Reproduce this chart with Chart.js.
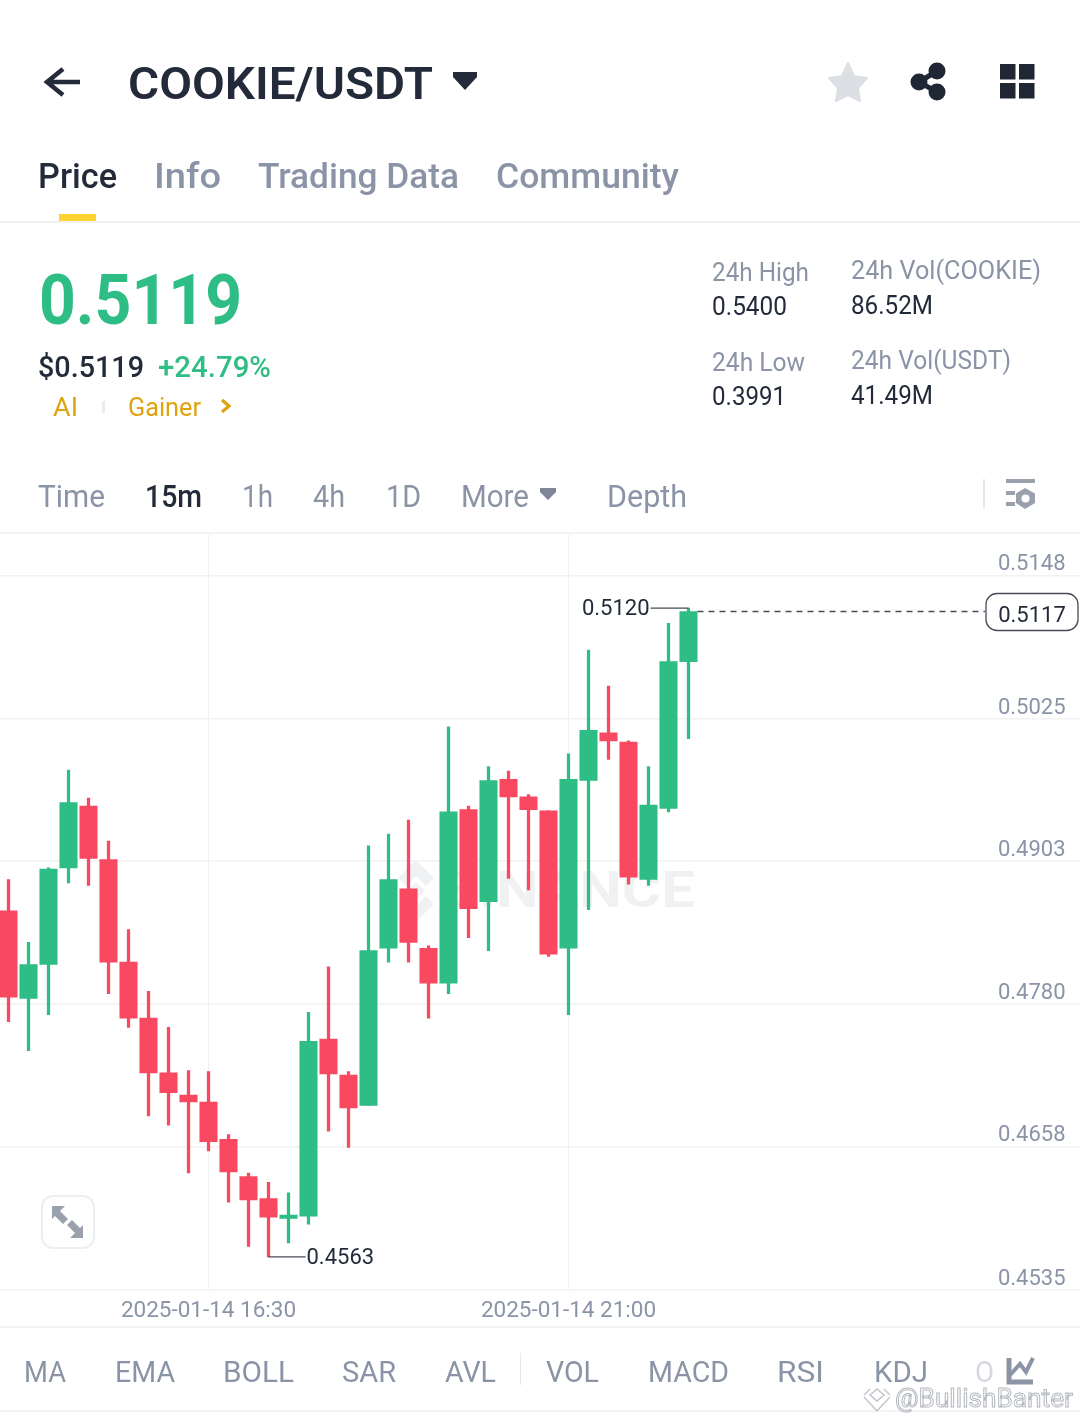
<!DOCTYPE html>
<html><head><meta charset="utf-8">
<style>
html,body{margin:0;padding:0;background:#fff;width:1080px;height:1420px;overflow:hidden;font-family:Roboto,sans-serif}
#page{position:relative;width:1080px;height:1420px;overflow:hidden;background:#fff}
.t{position:absolute;white-space:nowrap;line-height:1;transform-origin:left center}
.rule{position:absolute;left:0;width:1080px}
svg{position:absolute;overflow:visible}
canvas{position:absolute}
</style>
<script src="https://cdn.jsdelivr.net/npm/chart.js@4"></script>
</head><body><div id="page">
<div class="rule" style="top:221px;height:2px;background:#f1f2f4"></div>
<div style="position:absolute;left:59px;top:214px;width:37px;height:7px;background:#fcd535"></div>
<div class="rule" style="top:532px;height:2px;background:#f3f4f6"></div>
<div class="rule" style="top:1326px;height:2px;background:#f3f4f6"></div>
<div class="rule" style="top:1410px;height:2px;background:#f3f4f6"></div>
<div style="position:absolute;left:983px;top:479px;width:2px;height:30px;background:#e6e8ec"></div>
<div style="position:absolute;left:520px;top:1353px;width:1px;height:32px;background:#e6e8ec"></div>
<div style="position:absolute;left:102px;top:401px;width:3px;height:12px;background:#eaecef"></div>

<svg style="left:0;top:0" width="1080" height="1420">
  <path d="M80 82H48M63 69L47 82L63 95" fill="none" stroke="#232b3a" stroke-width="4.5"/>
  <path d="M453 72H477V77L465 90L453 77Z" fill="#232b3a"/>
  <path d="M540 488H556V492L548 500L540 492Z" fill="#7d8797"/>
  <path d="M848 63L854 76L867 78L858 88L860 101L848 95L836 101L838 88L829 78L842 76Z" fill="#dcdfe4" stroke="#dcdfe4" stroke-width="2" stroke-linejoin="round"/>
  <path d="M937 71L919 82L937 92" fill="none" stroke="#1f2735" stroke-width="5"/>
  <circle cx="937" cy="71" r="8.5" fill="#1f2735"/><circle cx="919" cy="82" r="8.5" fill="#1f2735"/><circle cx="937" cy="92" r="8.5" fill="#1f2735"/>
  <rect x="1000" y="64" width="15.5" height="15.5" fill="#1f2735"/><rect x="1019" y="64" width="15.5" height="15.5" fill="#1f2735"/>
  <rect x="1000" y="83" width="15.5" height="15.5" fill="#1f2735"/><rect x="1019" y="83" width="15.5" height="15.5" fill="#1f2735"/>
  <path d="M222 400L229 406L222 412" fill="none" stroke="#dfa30d" stroke-width="3.2"/>
  <rect x="1006" y="479" width="29" height="4" fill="#9aa1ad"/>
  <rect x="1006" y="491" width="9" height="4" fill="#9aa1ad"/>
  <rect x="1006" y="502" width="9" height="4" fill="#9aa1ad"/>
  <path d="M1025 488L1035 493.500V503L1025 509L1016 503V493.500Z" fill="#9aa1ad"/>
  <circle cx="1025.500" cy="498.500" r="4" fill="#fff"/>
  <path d="M1009 1358V1382H1033" fill="none" stroke="#8c95a5" stroke-width="5"/>
  <path d="M1010 1375L1020 1364L1026 1372L1033 1358" fill="none" stroke="#8c95a5" stroke-width="4"/>
  <g fill="none" stroke="#bfc3ca" stroke-width="1.400">
    <path d="M877 1389L884 1395L877 1401L870 1395Z"/><path d="M864 1395L870 1389M890 1395L884 1389"/>
    <path d="M864 1397L877 1411L890 1397"/>
  </g>
</svg>

<svg style="left:0;top:0" width="1080" height="1420">
  <g fill="#f0f1f3">
    <path d="M416 860L434 878L426 886L416 876L406 886L398 878Z"/>
    <path d="M416 922L434 904L426 896L416 906L406 896L398 904Z"/>
    <path d="M416 882L425 891L416 900L407 891Z"/>
  </g>
</svg>
<div class="t" id="wm" style="left:440px;top:870px;font-size:50px;font-weight:700;color:#f0f1f3">BINANCE</div>

<canvas id="c"></canvas>

<div style="position:absolute;left:41px;top:1195px;width:50px;height:50px;border:2px solid #eceef1;border-radius:12px;background:#fff"></div>
<svg style="left:0;top:0" width="1080" height="1420">
  <path d="M52 1206H65L60 1211L68 1219L63 1224L55 1216L52 1219Z" fill="#9aa1ad"/>
  <path d="M83 1238H70L75 1233L67 1225L72 1220L80 1228L83 1225Z" fill="#9aa1ad"/>
</svg>
</div>
<script>
const candleTimes = ["14:00","14:15","14:30","14:45","15:00","15:15","15:30","15:45","16:00","16:15","16:30","16:45","17:00","17:15","17:30","17:45","18:00","18:15","18:30","18:45","19:00","19:15","19:30","19:45","20:00","20:15","20:30","20:45","21:00","21:15","21:30","21:45","22:00","22:15","22:30"];
const opens  = [0.4860,0.4785,0.4814,0.4897,0.4950,0.4904,0.4816,0.4768,0.4721,0.4702,0.4696,0.4664,0.4632,0.4613,0.4596,0.4598,0.4750,0.4719,0.4693,0.4828,0.4879,0.4828,0.4798,0.4947,0.4868,0.4973,0.4958,0.4946,0.4828,0.4972,0.5013,0.5005,0.4887,0.4948,0.5074];
const closes = [0.4786,0.4814,0.4896,0.4953,0.4905,0.4816,0.4768,0.4721,0.4704,0.4696,0.4662,0.4636,0.4612,0.4597,0.4599,0.4748,0.4720,0.4691,0.4826,0.4887,0.4833,0.4798,0.4945,0.4862,0.4972,0.4958,0.4947,0.4823,0.4973,0.5015,0.5006,0.4889,0.4951,0.5074,0.5117];
const highs  = [0.4887,0.4833,0.4897,0.4981,0.4957,0.4920,0.4844,0.4791,0.4760,0.4723,0.4722,0.4668,0.4635,0.4627,0.4618,0.4773,0.4812,0.4722,0.4916,0.4926,0.4938,0.4830,0.5018,0.4950,0.4984,0.4980,0.4960,0.4946,0.4995,0.5084,0.5053,0.5006,0.4984,0.5107,0.5120];
const lows   = [0.4765,0.4740,0.4771,0.4884,0.4882,0.4789,0.4760,0.4684,0.4676,0.4635,0.4654,0.4610,0.4572,0.4563,0.4575,0.4591,0.4671,0.4657,0.4693,0.4816,0.4816,0.4768,0.4789,0.4837,0.4826,0.4888,0.4878,0.4821,0.4771,0.4861,0.4990,0.4883,0.4882,0.4945,0.5008];
const yTicks = [0.5148,0.5025,0.4903,0.4780,0.4658,0.4535];
const xTickTimes = ["16:30","21:00"];
const xTickDate = "2025-01-14";
const futureSlots = ["","","","","","","","","","","","","","","","","","","",""];
const periodHigh = 0.5120, periodLow = 0.4563, lastPrice = 0.5117;

const UP = "#2ebd85", DOWN = "#f84960", GRID = "#f1f2f4", MUTED = "#8a94a6", INK = "#232b3a";

const textRows = [
 ["COOKIE/USDT",128,83,45,INK,600,305],
 ["Price",38,176,35,INK,500,79],["Info",154,176,35,MUTED,500,67],["Trading Data",258,176,35,MUTED,500,201],["Community",496,176,35,MUTED,500,183],
 ["0.5119",39,300,70,UP,700,203],
 ["$0.5119",38,367,30,INK,500,106],["+24.79%",158,367,30,UP,500,113],
 ["AI",53,407,26,"#dfa30d",400,25],["Gainer",128,407,26,"#dfa30d",400,73],
 ["24h High",712,272,26,MUTED,400,97],["0.5400",712,306,26,INK,400,75],
 ["24h Vol(COOKIE)",851,270,26,MUTED,400,190],["86.52M",851,305,26,INK,400,82],
 ["24h Low",712,362,26,MUTED,400,93],["0.3991",712,396,26,INK,400,74],
 ["24h Vol(USDT)",851,360,26,MUTED,400,160],["41.49M",851,395,26,INK,400,82],
 ["Time",38,496,31,MUTED,400,67],["15m",145,496,31,INK,500,57],["1h",242,496,31,MUTED,400,31],["4h",313,496,31,MUTED,400,32],["1D",386,496,31,MUTED,400,35],["More",461,496,31,MUTED,400,68],["Depth",607,496,31,MUTED,400,80],
 ["MA",24,1372,30,MUTED,400,42],["EMA",115,1372,30,MUTED,400,60],["BOLL",223,1372,30,MUTED,400,71],["SAR",342,1372,30,MUTED,400,54],["AVL",445,1372,30,MUTED,400,51],["VOL",546,1372,30,MUTED,400,53],["MACD",648,1372,30,MUTED,400,81],["RSI",777,1372,30,MUTED,400,47],["KDJ",874,1372,30,MUTED,400,54],["O",975,1372,30,"#d6d9df",400,19]
];
const page = document.getElementById('page');
function place(el, x, cy, w){
  el.style.left = x + 'px';
  const r = el.getBoundingClientRect();
  el.style.top = (cy - r.height/2) + 'px';
  if (w) el.style.transform = 'scaleX(' + (w / r.width) + ')';
}
textRows.forEach(([s,x,cy,size,color,weight,w]) => {
  const d = document.createElement('div');
  d.className = 't'; d.textContent = s;
  d.style.fontSize = size + 'px'; d.style.color = color; d.style.fontWeight = weight;
  page.appendChild(d); place(d,x,cy,w);
});
const credit = document.createElement('div');
credit.className='t'; credit.textContent='@BullishBanter';
credit.style.cssText += 'font-size:26px;color:#fff;-webkit-text-stroke:1px #b4b8bf;';
page.appendChild(credit); place(credit,895,1398,178);
place(document.getElementById('wm'),440,890,255);

const cv = document.getElementById('c');
cv.style.left='-2px'; cv.style.top='534px';
cv.style.width='1101px'; cv.style.height='794px';
cv.width=1101; cv.height=794;

const labels = candleTimes.map(t => xTickDate + " " + t).concat(futureSlots);
const colors = opens.map((o,i) => closes[i] >= o ? UP : DOWN);
const xLabelSet = xTickTimes.map(t => xTickDate + " " + t);
const noPad = s => { s.paddingLeft = s.paddingRight = s.paddingTop = s.paddingBottom = 0; };

const marks = {
  id:'marks',
  afterDatasetsDraw(chart){
    const {ctx, scales:{x,y}} = chart;
    const hi = highs.indexOf(periodHigh), lo = lows.indexOf(periodLow), last = closes.length-1;
    const xh = x.getPixelForValue(hi), yh = y.getPixelForValue(periodHigh);
    const xl = x.getPixelForValue(lo), yl = y.getPixelForValue(periodLow);
    const yc = Math.round(y.getPixelForValue(lastPrice)) - 0.5;
    ctx.save();
    ctx.strokeStyle = '#474d57'; ctx.lineWidth = 1.2; ctx.fillStyle = INK;
    ctx.font = '22px Roboto'; ctx.textBaseline = 'middle';
    ctx.beginPath(); ctx.moveTo(xh, yh); ctx.lineTo(xh-38, yh); ctx.stroke();
    ctx.textAlign='right'; ctx.fillText(periodHigh.toFixed(4), xh-39, yh+1.5);
    ctx.beginPath(); ctx.moveTo(xl, yl); ctx.lineTo(xl+37, yl); ctx.stroke();
    ctx.textAlign='left'; ctx.fillText(periodLow.toFixed(4), xl+38, yl+1.5);
    ctx.setLineDash([6,5]); ctx.lineWidth = 1.3;
    ctx.beginPath(); ctx.moveTo(x.getPixelForValue(last)+9, yc); ctx.lineTo(987, yc); ctx.stroke();
    ctx.setLineDash([]);
    ctx.fillStyle = '#fff'; ctx.lineWidth = 1.3;
    ctx.beginPath(); ctx.roundRect(988, yc-18, 92, 37, 11); ctx.fill(); ctx.stroke();
    ctx.fillStyle = INK; ctx.textAlign='center';
    ctx.fillText(lastPrice.toFixed(4), 1034, yc+5);
    ctx.restore();
  }
};

new Chart(cv, {
  type:'bar',
  data:{labels, datasets:[
    {label:'Wick', data:highs.map((h,i)=>[lows[i],h]), backgroundColor:colors, barThickness:2.6, order:2, grouped:false},
    {label:'Body', data:opens.map((o,i)=>[o,closes[i]]), backgroundColor:colors, barThickness:17.4, order:1, grouped:false}
  ]},
  plugins:[marks],
  options:{
    responsive:false, animation:false, devicePixelRatio:1,
    layout:{padding:{left:0.5,right:0.5,top:0.5,bottom:0.5}},
    plugins:{legend:{display:false},tooltip:{enabled:false}},
    scales:{
      x:{
        border:{display:false},
        grid:{offset:false, drawTicks:false, color:c => (c.tick && c.tick.label) ? '#eef0f3' : 'rgba(0,0,0,0)', lineWidth:1},
        ticks:{autoSkip:false, maxRotation:0, minRotation:0, padding:8, color:MUTED, font:{family:'Roboto', size:22.5},
          callback(v){ const l=this.getLabelForValue(v); return xLabelSet.includes(l)?l:''; }},
        afterFit(s){ s.height = 38; noPad(s); }
      },
      y:{
        position:'right', min:0.4535, max:0.51832,
        border:{display:false},
        grid:{color:GRID, drawTicks:false, lineWidth:1.4},
        afterBuildTicks(s){ s.ticks = yTicks.map(v=>({value:v})); },
        afterFit(s){ s.width = 0; noPad(s); },
        ticks:{mirror:true, padding:-33, labelOffset:-10.5, color:MUTED, font:{family:'Roboto', size:22}, callback:v=>v.toFixed(4)}
      }
    }
  }
});
</script>
</body></html>
